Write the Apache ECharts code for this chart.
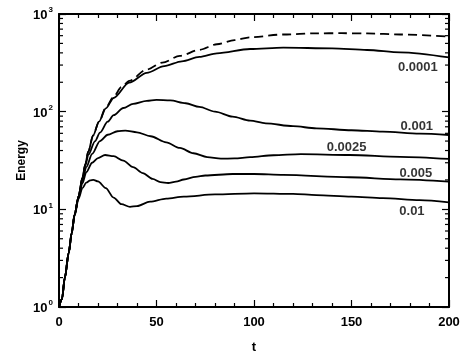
<!DOCTYPE html>
<html><head><meta charset="utf-8">
<script src="https://cdn.jsdelivr.net/npm/echarts@6/dist/echarts.min.js"></script>
<style>html,body{margin:0;padding:0;background:#fff}#c{width:474px;height:361px}</style>
</head><body><div id="c"></div>
<script>
// dashed reference curve
const tDash = [0,1.5,3,5,6.5,8,10,12,13.5,15,17.5,20.5,24,28,32,36,45,53,62,72,81,90,98,115,132,145,158,175,200];
const eDash = [1,1.2,2.0,3.6,5.7,8.8,13.5,21,29,39,57,79,110,142,178,207,270,318,372,430,490,540,578,617,634,636,632,617,588];

const t0001 = [0,1.5,3,5,6.5,8,10,12,13.5,15,17.5,20.5,24,28,36,45,54,63,72,81,98,115,140,158,175,200];
const e0001 = [1,1.2,2.0,3.6,5.7,8.8,13.5,21,29,39,57,79,108,138,198,250,293,328,364,396,438,452,445,428,405,359];

const t001 = [0,1.5,3,5,6.5,8,10,12,13.5,15,18.5,21,25,28,33,38,45,50,57,65,72,80,89,98,106,120,132,150,166,185,200];
const e001 = [1,1.2,2.0,3.6,5.7,8.8,13.5,21,28,36,50,61,79,92,109,120,129,132,130.5,122,112,100,89,81,76,71,67.6,64.5,62.4,59.5,57.7];

const t0025 = [0,1.5,3,5,6.5,8,10,12,14,17,21,25,30,34,40,47,55,62,69,76,83,90,98,110,124,149,175,200];
const e0025 = [1,1.2,2.0,3.6,5.7,8.8,13.5,20,27,37,50,58,63,64,61.5,56,48.5,42.5,37.5,34.3,33,33.2,34.2,35.8,36.8,36,34.5,32.8];

const t005 = [0,1.5,3,5,6.5,8,10,12,14,17,20,23.6,28,33,38,43,48,52,56,60,64,70,75,89,100,115,149,175,200];
const e005 = [1,1.2,2.0,3.6,5.7,8.8,13.3,18.5,24,30,33.5,36,35,31.5,27,23.5,20.5,19.0,18.6,19.2,20.2,21.5,22.2,23,23,22.5,21.3,20.3,19.2];

const t01 = [0,1.5,3,5,6.5,8,10,12,14,16,17.6,20,24,28,32,36.4,40,46.7,55,64,80,100,120,132,150,166,185,200];
const e01 = [1,1.2,2.0,3.6,5.7,8.6,12.8,16.5,18.8,19.8,20,19.3,16.5,13.2,11.3,10.6,10.8,12.0,12.9,13.5,14.2,14.6,14.4,14.0,13.5,13.0,12.4,11.8];

const curveNames = ['0.0001','0.001','0.0025','0.005','0.01'];
const labelT = [184,183.5,147.5,183,181];
const labelE = [287,70,43.5,23.3,9.6];

const xTicks = [0,50,100,150,200];
const yMinorTicks = [2,3,4,5,6,7,8,9,20,30,40,50,60,70,80,90,200,300,400,500,600,700,800,900];

const zip = (a,b)=>a.map((v,i)=>[v,b[i]]);
const chart = echarts.init(document.getElementById('c'), null, {renderer:'canvas'});
const FONT = 'Liberation Sans, Arial, sans-serif';
const lineStyle = {color:'#000', width:1.8};
const solidSets = [[t0001,e0001],[t001,e001],[t0025,e0025],[t005,e005],[t01,e01]];

const series = [{
  type:'line', data: zip(tDash,eDash), smooth:0.3, smoothMonotone:'x', symbol:'none',
  lineStyle:{color:'#000', width:1.8, type:[9,5]}, z:3
}];
solidSets.forEach(s=>series.push({type:'line', data: zip(s[0],s[1]), smooth:0.3, smoothMonotone:'x', symbol:'none', lineStyle, z:3}));
series.push({
  type:'scatter', symbolSize:0, z:5,
  data: curveNames.map((n,i)=>[labelT[i], labelE[i], n]),
  label:{show:true, position:'inside', formatter:p=>p.value[2], color:'#000', fontWeight:'bold', fontSize:13, fontFamily:FONT}
});
series.push({
  type:'custom', z:4, silent:true,
  data: yMinorTicks.map(v=>[0,v]),
  renderItem:(params, api)=>{
    const v = api.value(1);
    const a = api.coord([0, v]);
    const b = api.coord([200, v]);
    return {type:'group', children:[
      {type:'line', shape:{x1:a[0], y1:a[1], x2:a[0]+4, y2:a[1]}, style:{stroke:'#000', lineWidth:1.2}},
      {type:'line', shape:{x1:b[0], y1:b[1], x2:b[0]-4, y2:b[1]}, style:{stroke:'#000', lineWidth:1.2}}
    ]};
  }
});

const axisLine = {show:true, onZero:false, lineStyle:{color:'#000', width:2}};
chart.setOption({
  animation:false,
  backgroundColor:'#fff',
  grid:{left:59, top:14, right:25, bottom:54},
  xAxis:[{
    type:'value', min:xTicks[0], max:xTicks[xTicks.length-1], interval:50,
    name:'t', nameLocation:'middle', nameGap:34, nameMoveOverlap:false,
    nameTextStyle:{fontSize:13, fontWeight:'bold', color:'#000', fontFamily:FONT},
    axisLine, axisTick:{inside:true, length:7, lineStyle:{color:'#000', width:1.2}},
    minorTick:{show:true, splitNumber:5, length:4, lineStyle:{color:'#000', width:1.2}},
    splitLine:{show:false},
    axisLabel:{margin:9, fontSize:13, fontWeight:'bold', color:'#000', fontFamily:FONT}
  },{
    type:'value', position:'top', min:0, max:200, interval:50,
    axisLine, axisTick:{inside:true, length:7, lineStyle:{color:'#000', width:1.2}},
    minorTick:{show:true, splitNumber:5, length:4, lineStyle:{color:'#000', width:1.2}},
    splitLine:{show:false}, axisLabel:{show:false}
  }],
  yAxis:[{
    type:'log', logBase:10, min:1, max:1000, splitNumber:3,
    name:'Energy', nameLocation:'middle', nameGap:31, nameRotate:90, nameMoveOverlap:false,
    nameTextStyle:{fontSize:12, fontWeight:'bold', color:'#000', fontFamily:FONT},
    axisLine, axisTick:{inside:true, length:7, lineStyle:{color:'#000', width:1.2}},
    splitLine:{show:false},
    axisLabel:{margin:6, color:'#000', fontFamily:FONT,
      formatter:v=>'{b|10}{s|'+Math.round(Math.log10(v))+'}',
      rich:{b:{fontSize:13, fontWeight:'bold', fontFamily:FONT, color:'#000', lineHeight:16, verticalAlign:'bottom'},
            s:{fontSize:8, fontWeight:'bold', fontFamily:FONT, color:'#000', lineHeight:16, verticalAlign:'top', padding:[0,0,6,1]}}}
  },{
    type:'log', logBase:10, min:1, max:1000, splitNumber:3, position:'right',
    axisLine, axisTick:{inside:true, length:7, lineStyle:{color:'#000', width:1.2}},
    splitLine:{show:false}, axisLabel:{show:false}
  }],
  series
});
</script></body></html>
